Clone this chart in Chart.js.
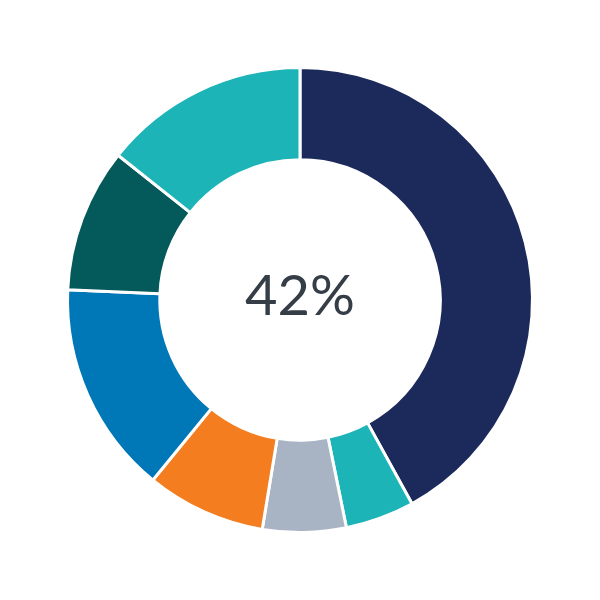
<!DOCTYPE html>
<html>
<head>
<meta charset="utf-8">
<script src="https://cdn.jsdelivr.net/npm/chart.js@4/dist/chart.umd.min.js"></script>
<style>
html,body{margin:0;padding:0;background:#fff;}
#wrap{width:600px;height:600px;position:relative;}
</style>
</head>
<body>
<div id="wrap"><canvas id="c" width="600" height="600"></canvas></div>
<script>
const labels = ["Segment A","Segment B","Segment C","Segment D","Segment E","Segment F","Segment G"];
const values = [42, 4.8, 5.8, 8.3, 14.8, 10, 14.3];
const colors = ["#1b2a5b","#1db4b8","#a8b4c4","#f47d20","#0077b6","#04595a","#1db4b8"];
const centerLabel = "42%";

const centerText = {
  id: 'centerText',
  afterDraw(chart) {
    const ctx = chart.ctx;
    const meta = chart.getDatasetMeta(0);
    const arc = meta.data[0];
    ctx.save();
    ctx.font = '400 56px Lato, "Open Sans", sans-serif';
    ctx.fillStyle = '#353d47';
    ctx.textAlign = 'center';
    ctx.textBaseline = 'middle';
    ctx.fillText(centerLabel, arc.x, arc.y - 3);
    ctx.restore();
  }
};

new Chart(document.getElementById('c'), {
  type: 'doughnut',
  data: {
    labels: labels,
    datasets: [{
      data: values,
      backgroundColor: colors,
      borderColor: '#ffffff',
      borderWidth: 3,
      hoverOffset: 0
    }]
  },
  options: {
    responsive: false,
    animation: false,
    cutout: '60.3%',
    layout: { padding: 66 },
    plugins: { legend: { display: false }, tooltip: { enabled: false } }
  },
  plugins: [centerText]
});
</script>
</body>
</html>
